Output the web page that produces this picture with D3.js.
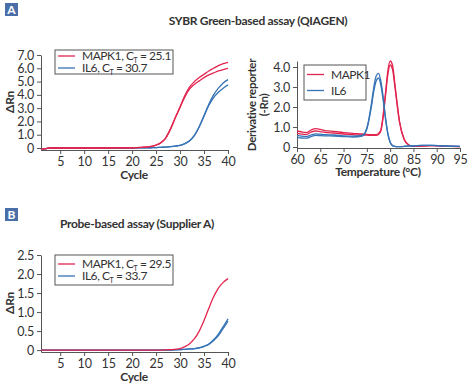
<!DOCTYPE html>
<html>
<head lang="en">
  <meta charset="UTF-8">
  <title>qPCR assays</title>
</head>
<style>
  body { margin: 0; background: #fff; }
  svg text { font-family: Lato, "Open Sans", sans-serif; fill: #333; }
  .axis path, .axis line { stroke: #555; }
  .axis text { font-size: 12.5px; fill: #333; letter-spacing: -0.2px; }
  .lbl { font-weight: bold; font-size: 12px; letter-spacing: -0.3px; }
</style>
<body>
<svg id="chart" width="474" height="389"></svg>

<script src="https://cdn.jsdelivr.net/npm/d3@7"></script>
<script>
  var red = '#e2254f';
  var blue = '#3573b5';

  // amplification plot, SYBR Green (cycles and delta Rn)
  var cyclesA = [1, 2, 3, 10, 20, 22, 24, 25, 26, 27, 28, 29, 30, 31, 32, 33, 34, 35, 36, 37, 38, 39, 40];
  var mapkA1 = [-0.12, -0.05, 0, 0, 0.02, 0.05, 0.12, 0.22, 0.4, 0.75, 1.45, 2.3, 3.1, 3.95, 4.6, 5.0, 5.3, 5.55, 5.8, 6.0, 6.2, 6.35, 6.45];
  var mapkA2 = [-0.12, -0.05, 0, 0, 0.02, 0.05, 0.12, 0.22, 0.4, 0.75, 1.4, 2.25, 3.05, 3.85, 4.45, 4.8, 5.05, 5.3, 5.5, 5.65, 5.8, 5.9, 6.0];
  var il6A1 = [-0.12, -0.05, 0, 0, 0, 0.01, 0.02, 0.03, 0.05, 0.07, 0.1, 0.14, 0.2, 0.33, 0.55, 0.95, 1.6, 2.45, 3.3, 4.0, 4.5, 4.9, 5.15];
  var il6A2 = [-0.12, -0.05, 0, 0, 0, 0.01, 0.02, 0.03, 0.05, 0.07, 0.1, 0.14, 0.2, 0.33, 0.55, 0.95, 1.6, 2.4, 3.2, 3.8, 4.2, 4.5, 4.75];

  // melt curves (temperature and derivative reporter)
  var temps = [60, 61, 62, 63, 64, 65, 66, 68, 70, 72, 74, 75, 76, 76.5, 77, 77.5, 78, 78.5, 79, 79.5, 80, 80.5, 81, 81.5, 82, 83, 84, 85, 87, 89, 91, 93, 95];
  var mapkM1 = [0.8, 0.75, 0.72, 0.85, 0.92, 0.88, 0.82, 0.78, 0.72, 0.68, 0.65, 0.63, 0.62, 0.62, 0.62, 0.68, 0.85, 1.6, 2.7, 3.8, 4.3, 4.1, 3.2, 2.2, 1.3, 0.4, 0.1, 0.03, 0.05, 0.07, 0.05, 0.03, 0.02];
  var mapkM2 = [0.68, 0.64, 0.62, 0.74, 0.8, 0.77, 0.73, 0.7, 0.65, 0.62, 0.6, 0.59, 0.58, 0.58, 0.58, 0.63, 0.8, 1.5, 2.55, 3.6, 4.1, 3.9, 3.05, 2.1, 1.25, 0.38, 0.1, 0.03, 0.05, 0.07, 0.05, 0.03, 0.02];
  var il6M1 = [0.58, 0.54, 0.52, 0.6, 0.66, 0.64, 0.62, 0.6, 0.56, 0.54, 0.58, 0.95, 2.2, 3.0, 3.55, 3.68, 3.3, 2.5, 1.5, 0.7, 0.25, 0.08, 0.03, 0.02, 0.02, 0.03, 0.05, 0.06, 0.08, 0.08, 0.06, 0.04, 0.03];
  var il6M2 = [0.48, 0.45, 0.44, 0.52, 0.58, 0.57, 0.56, 0.55, 0.52, 0.5, 0.55, 0.9, 2.05, 2.8, 3.3, 3.45, 3.1, 2.35, 1.4, 0.65, 0.23, 0.07, 0.03, 0.02, 0.02, 0.03, 0.05, 0.06, 0.08, 0.08, 0.06, 0.04, 0.03];

  // amplification plot, probe-based
  var cyclesB = [1, 10, 20, 26, 28, 30, 31, 32, 33, 34, 35, 36, 37, 38, 39, 40];
  var mapkB = [0, 0, 0, 0, 0.01, 0.04, 0.09, 0.17, 0.3, 0.5, 0.78, 1.1, 1.4, 1.63, 1.78, 1.88];
  var il6B1 = [0, 0, 0, 0, 0, 0.01, 0.02, 0.03, 0.04, 0.06, 0.1, 0.16, 0.27, 0.42, 0.62, 0.82];
  var il6B2 = [0, 0, 0, 0, 0, 0.01, 0.02, 0.03, 0.04, 0.06, 0.1, 0.15, 0.25, 0.38, 0.57, 0.76];

  var ticksA = [0, 1, 2, 3, 4, 5, 6, 7];
  var ticksM = [0, 1, 2, 3, 4];
  var ticksB = [0, 0.5, 1, 1.5, 2, 2.5];
  var cycleTicks = [5, 10, 15, 20, 25, 30, 35, 40];
  var tempTicks = [60, 65, 70, 75, 80, 85, 90, 95];

  var svg = d3.select('#chart');

  function badge(letter, y) {
    svg.append('rect').attr('x', 5).attr('y', y).attr('width', 13).attr('height', 13).attr('fill', '#4a6ea8');
    svg.append('text').attr('x', 11.5).attr('y', y + 11).attr('text-anchor', 'middle')
      .style('fill', '#fff').style('font-weight', 'bold').style('font-size', '12px').text(letter);
  }

  function fmt(d) { return d === 0 ? '0' : d.toFixed(1); }

  function panel(opt) {
    var x = d3.scaleLinear().domain(opt.xd).range(opt.xr);
    var y = d3.scaleLinear().domain(opt.yd).range(opt.yr);
    var g = svg.append('g');

    g.append('g').attr('class', 'axis')
      .attr('transform', 'translate(0,' + opt.yr[0] + ')')
      .call(d3.axisBottom(x).tickValues(opt.xt).tickSize(4).tickSizeOuter(0).tickPadding(3));
    g.append('g').attr('class', 'axis')
      .attr('transform', 'translate(' + opt.xr[0] + ',0)')
      .call(d3.axisLeft(y).tickValues(opt.yt).tickFormat(opt.fmt).tickSize(4).tickSizeOuter(0).tickPadding(3));

    var line = d3.line().x(function(d) { return x(d[0]); }).y(function(d) { return y(d[1]); })
      .curve(d3.curveMonotoneX);
    opt.series.forEach(function(s) {
      g.append('path')
        .datum(opt.xs.map(function(v, i) { return [v, s.v[i]]; }))
        .attr('d', line).attr('fill', 'none').attr('stroke', s.c).attr('stroke-width', 1.3);
    });
    return g;
  }

  function legend(x0, y0, w, h, gap, items) {
    svg.append('rect').attr('x', x0).attr('y', y0).attr('width', w).attr('height', h)
      .attr('fill', '#fff').attr('stroke', '#555').attr('stroke-width', 1);
    items.forEach(function(it, i) {
      var yy = y0 + h / 2 - gap / 2 + i * gap;
      svg.append('line').attr('x1', x0 + 3).attr('x2', x0 + 20).attr('y1', yy).attr('y2', yy)
        .attr('stroke', it.c).attr('stroke-width', 1.3);
      var t = svg.append('text').attr('x', x0 + 27).attr('y', yy + 4)
        .style('font-size', '12px').style('letter-spacing', '-0.45px');
      t.append('tspan').text(it.name);
      if (it.ct) {
        t.append('tspan').text(', C');
        t.append('tspan').attr('dy', 3).style('font-size', '7px').text('T');
        t.append('tspan').attr('dy', -3).text(' = ' + it.ct);
      }
    });
  }

  // ---- panel A
  badge('A', 3);
  svg.append('text').attr('class', 'lbl').attr('x', 258).attr('y', 25).attr('text-anchor', 'middle').text('SYBR Green-based assay (QIAGEN)');

  panel({ xd: [1, 40], xr: [41, 228], yd: [-0.15, 7], yr: [150, 55], xt: cycleTicks, yt: ticksA, fmt: fmt, xs: cyclesA,
    series: [{ v: il6A1, c: blue }, { v: il6A2, c: blue }, { v: mapkA1, c: red }, { v: mapkA2, c: red }] });
  svg.append('text').attr('class', 'lbl').attr('x', 134).attr('y', 179).attr('text-anchor', 'middle').text('Cycle');
  svg.append('text').attr('class', 'lbl').attr('transform', 'translate(14,102) rotate(-90)').attr('text-anchor', 'middle').text('\u0394Rn');
  legend(55, 50, 118, 24, 12, [{ name: 'MAPK1', ct: '25.1', c: red }, { name: 'IL6', ct: '30.7', c: blue }]);

  panel({ xd: [60, 95], xr: [297, 460], yd: [-0.05, 4.3], yr: [148, 61], xt: tempTicks, yt: ticksM, fmt: fmt, xs: temps,
    series: [{ v: mapkM1, c: red }, { v: mapkM2, c: red }, { v: il6M1, c: blue }, { v: il6M2, c: blue }] });
  svg.append('text').attr('class', 'lbl').attr('x', 378).attr('y', 176).attr('text-anchor', 'middle').text('Temperature (\u00B0C)');
  svg.append('text').attr('class', 'lbl').style('font-size', '11.5px').attr('transform', 'translate(256,105) rotate(-90)').attr('text-anchor', 'middle').text('Derivative reporter');
  svg.append('text').attr('class', 'lbl').style('font-size', '11.5px').attr('transform', 'translate(268,105) rotate(-90)').attr('text-anchor', 'middle').text('(-Rn)');
  legend(304, 65, 62, 35, 16, [{ name: 'MAPK1', c: red }, { name: 'IL6', c: blue }]);

  // ---- panel B
  badge('B', 208);
  svg.append('text').attr('class', 'lbl').attr('x', 137).attr('y', 228).attr('text-anchor', 'middle').text('Probe-based assay (Supplier A)');

  panel({ xd: [1, 40], xr: [41, 228], yd: [-0.05, 2.5], yr: [352, 255], xt: cycleTicks, yt: ticksB, fmt: fmt, xs: cyclesB,
    series: [{ v: il6B1, c: blue }, { v: il6B2, c: blue }, { v: mapkB, c: red }] });
  svg.append('text').attr('class', 'lbl').attr('x', 134).attr('y', 381).attr('text-anchor', 'middle').text('Cycle');
  svg.append('text').attr('class', 'lbl').attr('transform', 'translate(14,303) rotate(-90)').attr('text-anchor', 'middle').text('\u0394Rn');
  legend(55, 255, 118, 30, 12, [{ name: 'MAPK1', ct: '29.5', c: red }, { name: 'IL6', ct: '33.7', c: blue }]);
</script>
</body>
</html>
